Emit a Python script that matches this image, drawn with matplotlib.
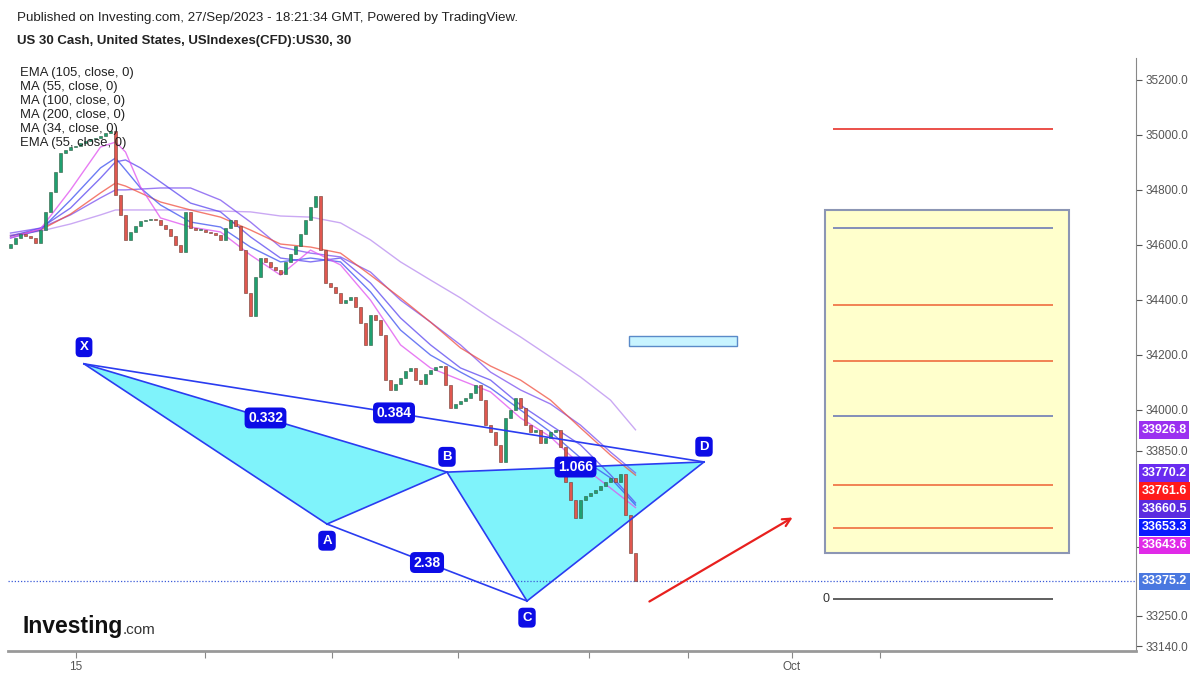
import numpy as np
import matplotlib
matplotlib.use("Agg")
import matplotlib.pyplot as plt
from matplotlib.patches import Rectangle, Polygon

plt.rcParams['font.family'] = ['Liberation Sans', 'DejaVu Sans']

# US30, 30 min closes, open = previous close
first_open = 34590
closes = [
    34603, 34625, 34640, 34632, 34625, 34607, 34654, 34720, 34792, 34865,
    34934, 34945, 34956, 34960, 34971, 34978, 34985, 34989, 34996, 35007,
    35014, 34782, 34709, 34618, 34647, 34669, 34687, 34690, 34694, 34690,
    34672, 34658, 34632, 34600, 34574, 34720, 34661, 34654, 34654, 34647,
    34643, 34636, 34618, 34661, 34690, 34669, 34581, 34425, 34341, 34483,
    34552, 34538, 34520, 34509, 34494, 34538, 34567, 34596, 34640, 34690,
    34738, 34778, 34581, 34461, 34447, 34425, 34389, 34399, 34410, 34374,
    34316, 34236, 34345, 34327, 34272, 34108, 34072, 34094, 34116, 34141,
    34152, 34108, 34094, 34130, 34145, 34156, 34159, 34090, 34006, 34021,
    34032, 34043, 34061, 34090, 34035, 33944, 33919, 33872, 33810, 33970,
    33999, 34043, 34006, 33944, 33919, 33926, 33879, 33897, 33919, 33926,
    33864, 33737, 33672, 33606, 33672, 33686, 33697, 33708, 33723, 33737,
    33752, 33737, 33766, 33617, 33479, 33375.2]

# moving averages sampled at these bars
ma_x = [0, 6, 12, 18, 21, 23, 26, 30, 36, 42, 48, 54, 60, 66, 72, 78, 84, 90, 96, 102, 108, 114, 120, 125]
ema105 = [34632, 34654, 34712, 34789, 34825, 34814, 34789, 34756, 34727, 34701, 34654, 34603, 34592, 34570, 34490, 34407, 34319, 34225, 34159, 34108, 34035, 33934, 33835, 33762]
ma55 = [34632, 34661, 34734, 34843, 34902, 34909, 34880, 34829, 34752, 34720, 34629, 34552, 34538, 34552, 34461, 34334, 34236, 34152, 34108, 34017, 33944, 33872, 33763, 33661]
ma100 = [34643, 34661, 34709, 34771, 34800, 34800, 34803, 34807, 34807, 34763, 34683, 34592, 34570, 34556, 34501, 34399, 34319, 34236, 34137, 34072, 34021, 33944, 33846, 33770]
ma200 = [34636, 34650, 34676, 34709, 34727, 34727, 34727, 34727, 34727, 34723, 34720, 34705, 34701, 34680, 34618, 34538, 34472, 34407, 34334, 34265, 34192, 34119, 34035, 33927]
ma34 = [34625, 34654, 34763, 34880, 34916, 34873, 34807, 34745, 34683, 34665, 34592, 34538, 34552, 34538, 34429, 34290, 34199, 34137, 34079, 33999, 33919, 33825, 33752, 33653]
ema55 = [34625, 34658, 34800, 34956, 34974, 34938, 34811, 34698, 34665, 34647, 34563, 34490, 34581, 34527, 34399, 34236, 34152, 34108, 34065, 33970, 33901, 33799, 33715, 33644]
ind_names = ['EMA (105, close, 0)', 'MA (55, close, 0)', 'MA (100, close, 0)',
             'MA (200, close, 0)', 'MA (34, close, 0)', 'EMA (55, close, 0)']

# last values shown on the price scale
last_vals = [33926.8, 33770.2, 33761.6, 33660.5, 33653.3, 33643.6]
last_cols = ['#9b30f0', '#6a2cf0', '#ff1a1a', '#5b2be0', '#0a1aff', '#e02ae8']
last_price = 33375.2

# harmonic pattern
pat_names = ['X', 'A', 'B', 'C', 'D']
pat_x = [14.7, 63.3, 87.3, 103.3, 138.7]
pat_y = [34167, 33584, 33773, 33304, 33810]
ratio_txt = {('X', 'B'): '0.332', ('X', 'D'): '0.384', ('A', 'C'): '2.38', ('B', 'D'): '1.066'}

# target box
box_x = [162.9, 211.7]
box_y = [33479, 34727]
box_levels = [34661, 34381, 34177, 33977, 33726, 33570]
box_cols = ['#7a86b8', '#f0784a', '#f0784a', '#7a86b8', '#f0784a', '#f0784a']
red_level = 35022
zero_level = 33311
small_box_x = [123.7, 145.3]
small_box_y = [34232, 34268]
arrow_from = (127.3, 33297)
arrow_to = (156.9, 33613)

xtick_pos = [13.1, 38.9, 64.3, 89.5, 115.7, 135.5, 156.3, 173.9]
xtick_lab = ['15', '', '', '', '', '', 'Oct', '']
ytick_pos = [35200, 35000, 34800, 34600, 34400, 34200, 34000, 33850, 33500, 33250, 33140]

fig = plt.figure(figsize=(12, 6.76), dpi=100)
ax = fig.add_axes([8 / 1200, 25 / 676, 1128 / 1200, 593 / 676])
ax.set_xlim(-0.5, 225.1)
ax.set_ylim(33122, 35280)

# pattern fill
P = dict(zip(pat_names, zip(pat_x, pat_y)))
for tri in [('X', 'A', 'B'), ('B', 'C', 'D')]:
    ax.add_patch(Polygon([P[k] for k in tri], closed=True, fc='#7ff3fb', ec='none', zorder=1))

# candles
opens = [first_open] + closes[:-1]
idx = np.arange(len(closes))
o = np.array(opens)
c = np.array(closes)
up = c >= o
bottoms = np.minimum(o, c)
heights = np.maximum(np.abs(c - o), 3)
ax.bar(idx[up], heights[up], bottom=bottoms[up], width=0.7, color='#1fa070',
       edgecolor='#2f5a40', linewidth=0.4, zorder=3)
ax.bar(idx[~up], heights[~up], bottom=bottoms[~up], width=0.7, color='#e0574f',
       edgecolor='#6a3a30', linewidth=0.4, zorder=3)

# moving averages
ma_series = [ma200, ma100, ema105, ma55, ma34, ema55]
ma_cols = ['#b98cf0', '#7a50f0', '#f05040', '#5a46f0', '#3c50f0', '#e050f0']
for s, col in zip(ma_series, ma_cols):
    ax.plot(ma_x, s, color=col, lw=1, alpha=0.75, zorder=2)

# pattern legs
edge = '#2a3cf0'
for a, b in [('X', 'A'), ('A', 'B'), ('X', 'B'), ('B', 'C'), ('C', 'D'), ('B', 'D'), ('X', 'D'), ('A', 'C')]:
    ax.plot([P[a][0], P[b][0]], [P[a][1], P[b][1]], color=edge, lw=1.2, zorder=4)
for (a, b), t in ratio_txt.items():
    mx = (P[a][0] + P[b][0]) / 2
    my = (P[a][1] + P[b][1]) / 2
    ax.text(mx, my, t, color='white', fontsize=10, fontweight='bold', ha='center', va='center', zorder=6,
            bbox=dict(boxstyle='round,pad=0.25,rounding_size=0.35', fc='#0c0ce6', ec='none'))
offs = {'X': 12, 'A': -12, 'B': 11, 'C': -12, 'D': 11}
for k in pat_names:
    ax.annotate(k, P[k], xytext=(0, offs[k]), textcoords='offset points', ha='center', va='center',
                color='white', fontsize=9.5, fontweight='bold', zorder=6,
                bbox=dict(boxstyle='round,pad=0.3,rounding_size=0.35', fc='#0c0ce6', ec='none'))

# boxes and levels
ax.add_patch(Rectangle((small_box_x[0], small_box_y[0]), small_box_x[1] - small_box_x[0],
                       small_box_y[1] - small_box_y[0], fc='#c8f4ff', ec='#5a8ac8', lw=1, zorder=2))
ax.add_patch(Rectangle((box_x[0], box_y[0]), box_x[1] - box_x[0], box_y[1] - box_y[0],
                       fc='#ffffcc', ec='#8c96b4', lw=1.5, zorder=1))
ax.hlines(box_levels, box_x[0] + 1.6, box_x[1] - 3.2, colors=box_cols, lw=1.3, zorder=2)
ax.hlines(red_level, box_x[0] + 1.6, box_x[1] - 3.2, colors='#e8322a', lw=1.2, zorder=2)
ax.hlines(zero_level, box_x[0] + 1.6, box_x[1] - 3.2, colors='#444444', lw=1.2, zorder=2)
ax.text(box_x[0] + 0.9, zero_level, '0', ha='right', va='center', fontsize=9, color='#333333')

ax.annotate('', xy=arrow_to, xytext=arrow_from,
            arrowprops=dict(arrowstyle='->', color='#e8201e', lw=1.6, mutation_scale=14), zorder=5)

ax.axhline(last_price, color='#3a5ad8', ls=(0, (1, 1.5)), lw=0.9, zorder=2)

# axes styling
for s in ['top', 'left']:
    ax.spines[s].set_visible(False)
ax.spines['right'].set_color('#888888')
ax.spines['bottom'].set_color('#999999')
ax.spines['bottom'].set_linewidth(2)
ax.yaxis.tick_right()
ax.set_yticks(ytick_pos)
ax.set_yticklabels(['%.1f' % v for v in ytick_pos])
ax.tick_params(axis='y', length=4, pad=3, colors='#555555', labelsize=8.5)
ax.set_xticks(xtick_pos)
ax.set_xticklabels(xtick_lab)
ax.tick_params(axis='x', length=5, pad=2, colors='#888888', labelcolor='#555555', labelsize=8.5)

# price labels on scale (stacked like the platform does)
gap = 66
prev = None
for v, col in zip(last_vals, last_cols):
    yy = v if prev is None or prev - v >= gap else prev - gap
    prev = yy
    ax.annotate('%.1f' % v, xy=(1, yy), xycoords=('axes fraction', 'data'), xytext=(4, 0),
                textcoords='offset points', ha='left', va='center', color='white', fontsize=9,
                fontweight='bold', annotation_clip=False, zorder=7,
                bbox=dict(boxstyle='square,pad=0.22', fc=col, ec='none'))
ax.annotate('%.1f' % last_price, xy=(1, last_price), xycoords=('axes fraction', 'data'), xytext=(4, 0),
            textcoords='offset points', ha='left', va='center', color='white', fontsize=9,
            fontweight='bold', annotation_clip=False, zorder=7,
            bbox=dict(boxstyle='square,pad=0.22', fc='#4a78e0', ec='none'))

# texts
fig.text(17 / 1200, 1 - 18 / 676, 'Published on Investing.com, 27/Sep/2023 - 18:21:34 GMT, Powered by TradingView.',
         fontsize=9.6, va='center', color='#222222')
fig.text(17 / 1200, 1 - 41 / 676, 'US 30 Cash, United States, USIndexes(CFD):US30, 30',
         fontsize=9.5, fontweight='bold', va='center', color='#222222')
for k, name in enumerate(ind_names):
    fig.text(20 / 1200, 1 - (73 + 14 * k) / 676, name, fontsize=9.4, va='center', color='#222222')
fig.text(22 / 1200, 1 - 627 / 676, 'Investing', fontsize=16.5, fontweight='bold', va='center', color='#111111')
fig.text(123 / 1200, 1 - 630 / 676, '.com', fontsize=11, va='center', color='#333333')

fig.savefig('out.png', dpi=100)
